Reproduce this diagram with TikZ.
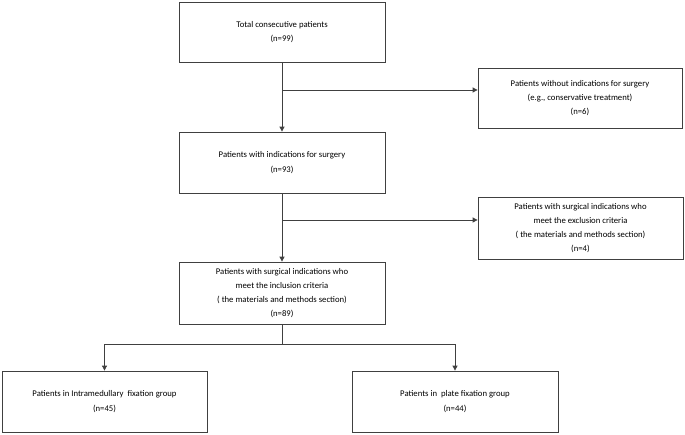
\documentclass[tikz,border=0pt]{standalone}
\usepackage{fontspec}
\setmainfont{Carlito}
\usetikzlibrary{arrows.meta}
\begin{document}
\begin{tikzpicture}[x=1pt,y=-1pt,
  box/.style={draw=black!75,line width=0.8pt,inner sep=0pt,align=center,font=\fontsize{8.7}{14.2}\selectfont},
  ln/.style={draw=black!75,line width=0.8pt},
  arr/.style={ln,-{Triangle[length=5pt,width=5pt]}}]
\useasboundingbox (0,0) rectangle (685,434);
\node[box,minimum width=206pt,minimum height=60pt] (b1) at (282,32) {Total consecutive patients\\(n=99)};
\node[box,minimum width=206pt,minimum height=61pt] (b2) at (282,162.5) {Patients with indications for surgery\\(n=93)};
\node[box,minimum width=206pt,minimum height=62pt] (b3) at (282,293) {Patients with surgical indications who\\meet the inclusion criteria\\( the materials and methods section)\\(n=89)};
\node[box,minimum width=204pt,minimum height=60pt] (r1) at (580,98) {Patients without indications for surgery\\(e.g., conservative treatment)\\(n=6)};
\node[box,minimum width=205pt,minimum height=62pt] (r2) at (580.5,228) {Patients with surgical indications who\\meet the exclusion criteria\\( the materials and methods section)\\(n=4)};
\node[box,minimum width=205pt,minimum height=61pt] (b4) at (104.5,401.5) {Patients in Intramedullary\ \ fixation group\\(n=45)};
\node[box,minimum width=206pt,minimum height=61pt] (b5) at (455,401.5) {Patients in\ \ plate fixation group\\(n=44)};
\coordinate (j1) at (282,90);
\coordinate (j2) at (282,220);
\coordinate (j3) at (282,344);
\draw[arr] (b1.south) -- (b2.north);
\draw[arr] (j1) -- (r1.west |- j1);
\draw[arr] (b2.south) -- (b3.north);
\draw[arr] (j2) -- (r2.west |- j2);
\draw[ln] (b3.south) -- (j3);
\draw[arr] (j3) -| (b4.north);
\draw[arr] (j3) -| (b5.north);
\end{tikzpicture}
\end{document}
